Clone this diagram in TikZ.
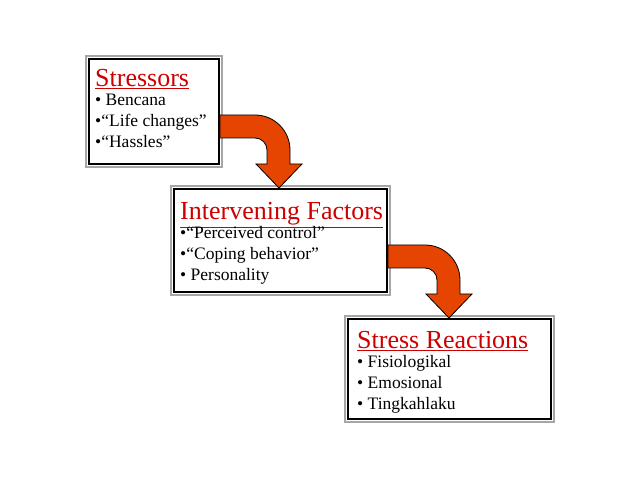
\documentclass[tikz,border=0pt]{standalone}
\usepackage{fontspec}
\setmainfont{Liberation Serif}
\begin{document}
\begin{tikzpicture}[x=1pt,y=-1pt,
  ttl/.style={text=red!80!black,font=\fontsize{26}{28}\selectfont},
  body/.style={font=\fontsize{17.5}{21}\selectfont},
  arr/.style={fill=orange!60!red!90!black,draw=black,line width=0.8pt}]
\useasboundingbox (0,0) rectangle (638,478);
% boxes
\draw[gray!70,line width=1.5pt] (86,56) rectangle (222,167);
\draw[line width=2pt] (89,59) rectangle (219,164);
\draw[gray!70,line width=1.5pt] (171,186) rectangle (390,295);
\draw[line width=2pt] (174,189) rectangle (387,292);
\draw[gray!70,line width=1.5pt] (345,316) rectangle (554,422);
\draw[line width=2pt] (348,319) rectangle (551,419);
% arrows
\draw[arr] (220,115) -- (255,115) arc[start angle=-90,end angle=0,radius=35] -- (290,164) -- (302,164) -- (279,188) -- (256,164) -- (267,164) -- (267,150) arc[start angle=0,end angle=-90,radius=12] -- (220,138) -- cycle;
\draw[arr] (388,245) -- (425,245) arc[start angle=-90,end angle=0,radius=35] -- (460,294) -- (472,294) -- (449,318) -- (426,294) -- (437,294) -- (437,280) arc[start angle=0,end angle=-90,radius=12] -- (388,268) -- cycle;
% texts
\node[ttl,anchor=base west,inner sep=0pt] (t1) at (95,87) {\underline{Stressors}};
\node[body,anchor=north west,align=left,inner sep=0pt] (b1) at (95,94) {• Bencana\\•“Life changes”\\•“Hassles”};
\node[ttl,anchor=base west,inner sep=0pt] (t2) at (180,220) {\underline{Intervening Factors}};
\node[body,anchor=north west,align=left,inner sep=0pt] (b2) at (180,226) {•“Perceived control”\\•“Coping behavior”\\• Personality};
\node[ttl,anchor=base west,inner sep=0pt] (t3) at (357,349) {\underline{Stress Reactions}};
\node[body,anchor=north west,align=left,inner sep=0pt] (b3) at (357,355) {• Fisiologikal\\• Emosional\\• Tingkahlaku};
\end{tikzpicture}
\end{document}
